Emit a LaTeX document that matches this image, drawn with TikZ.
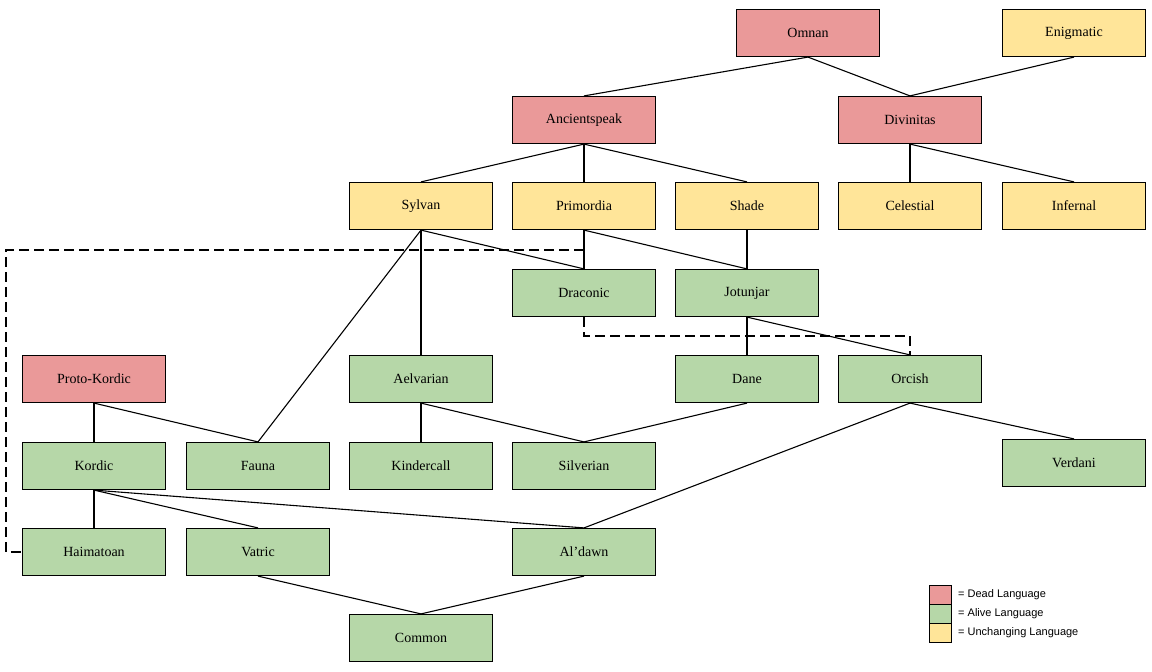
\documentclass[tikz,border=0pt]{standalone}
\usepackage{fontspec}
\setmainfont{Liberation Serif}
\newfontfamily\legfont{Liberation Sans}
\definecolor{deadc}{HTML}{EA9999}
\definecolor{alivec}{HTML}{B6D7A8}
\definecolor{unchc}{HTML}{FFE599}
\begin{document}
\begin{tikzpicture}[x=1pt,y=-1pt,
 lang/.style={draw,line width=1.2pt,minimum width=143pt,minimum height=47pt,inner sep=0pt,font=\fontsize{14}{16}\selectfont},
 dead/.style={lang,fill=deadc}, alive/.style={lang,fill=alivec}, unch/.style={lang,fill=unchc},
 link/.style={line width=1.1pt},
 dlink/.style={line width=1.1pt,dash pattern=on 10pt off 5pt},
 legbox/.style={draw,line width=0.8pt,minimum width=22pt,minimum height=19pt,inner sep=0pt},
 legtxt/.style={anchor=west,font=\legfont\fontsize{11}{12}\selectfont,inner sep=0pt}]
\useasboundingbox (0,0) rectangle (1152,672);
\node[dead] (om) at (808,33) {Omnan};
\node[unch] (en) at (1074,33) {Enigmatic};
\node[dead] (an) at (584,120) {Ancientspeak};
\node[dead] (di) at (910,120) {Divinitas};
\node[unch] (sy) at (421,206) {Sylvan};
\node[unch] (pr) at (584,206) {Primordia};
\node[unch] (sh) at (747,206) {Shade};
\node[unch] (ce) at (910,206) {Celestial};
\node[unch] (in) at (1074,206) {Infernal};
\node[alive] (dr) at (584,293) {Draconic};
\node[alive] (jo) at (747,293) {Jotunjar};
\node[dead] (pk) at (94,379) {Proto-Kordic};
\node[alive] (ae) at (421,379) {Aelvarian};
\node[alive] (da) at (747,379) {Dane};
\node[alive] (or) at (910,379) {Orcish};
\node[alive] (ko) at (94,466) {Kordic};
\node[alive] (fa) at (258,466) {Fauna};
\node[alive] (ki) at (421,466) {Kindercall};
\node[alive] (si) at (584,466) {Silverian};
\node[alive] (ve) at (1074,463) {Verdani};
\node[alive] (ha) at (94,552) {Haimatoan};
\node[alive] (va) at (258,552) {Vatric};
\node[alive] (al) at (584,552) {Al’dawn};
\node[alive] (co) at (421,638) {Common};
\foreach \a/\b in {om/an,om/di,en/di,an/sy,an/pr,an/sh,di/ce,di/in,sy/dr,sy/ae,sy/fa,pr/dr,pr/jo,sh/jo,jo/da,jo/or,pk/ko,pk/fa,ae/ki,ae/si,da/si,or/ve,or/al,ko/ha,ko/va,ko/al,va/co,al/co}
  \draw[link] (\a.south) -- (\b.north);
\coordinate (d1) at (584,250);
\draw[dlink] (d1) -- (6,250) -- (6,552) -- (ha.west);
\draw[dlink] (dr.south) -- (584,336) -- (910,336) -- (or.north);
\node[legbox,fill=deadc] (l1) at (940,595) {};
\node[legbox,fill=alivec] (l2) at (940,614) {};
\node[legbox,fill=unchc] (l3) at (940,633) {};
\node[legtxt] (t1) at (958,595) {= Dead Language};
\node[legtxt] (t2) at (958,614) {= Alive Language};
\node[legtxt] (t3) at (958,633) {= Unchanging Language};
\end{tikzpicture}
\end{document}
